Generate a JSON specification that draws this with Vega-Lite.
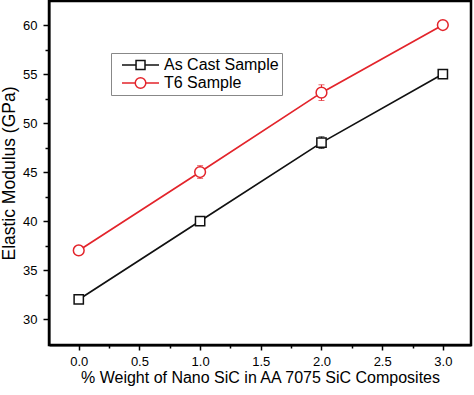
{
  "$schema": "https://vega.github.io/schema/vega-lite/v6.json",
  "width": 422,
  "height": 344,
  "autosize": {"type": "none"},
  "padding": {"left": 49, "top": 1, "right": 3, "bottom": 50},
  "background": "white",
  "config": {
    "font": "Liberation Sans",
    "view": {"stroke": "#000", "strokeWidth": 2.5},
    "axis": {
      "grid": false,
      "domainColor": "#000",
      "domainWidth": 2,
      "tickColor": "#000",
      "tickWidth": 1.5,
      "labelColor": "#000",
      "titleColor": "#000",
      "labelFont": "Liberation Sans",
      "titleFont": "Liberation Sans",
      "labelFontSize": 13,
      "titleFontWeight": "normal"
    }
  },
  "data": {
    "values": [
      {"x": 0, "y": 32, "lo": 31.7, "hi": 32.3, "sample": "As Cast Sample"},
      {"x": 1, "y": 40, "lo": 39.6, "hi": 40.4, "sample": "As Cast Sample"},
      {"x": 2, "y": 48, "lo": 47.4, "hi": 48.6, "sample": "As Cast Sample"},
      {"x": 3, "y": 55, "lo": 54.7, "hi": 55.3, "sample": "As Cast Sample"},
      {"x": 0, "y": 37, "lo": 36.7, "hi": 37.3, "sample": "T6 Sample"},
      {"x": 1, "y": 45, "lo": 44.35, "hi": 45.65, "sample": "T6 Sample"},
      {"x": 2, "y": 53.1, "lo": 52.3, "hi": 53.9, "sample": "T6 Sample"},
      {"x": 3, "y": 60, "lo": 59.7, "hi": 60.3, "sample": "T6 Sample"}
    ]
  },
  "encoding": {
    "x": {
      "field": "x",
      "type": "quantitative",
      "scale": {"domain": [-0.245, 3.232], "nice": false, "zero": false},
      "axis": {
        "title": "% Weight of Nano SiC in AA 7075 SiC Composites",
        "titleFontSize": 16,
        "titlePadding": 1,
        "values": [0, 0.25, 0.5, 0.75, 1, 1.25, 1.5, 1.75, 2, 2.25, 2.5, 2.75, 3],
        "labelExpr": "abs(datum.value*2 - round(datum.value*2)) < 0.001 ? format(datum.value, '.1f') : ''",
        "tickSize": {"condition": {"test": "abs(datum.value*2 - round(datum.value*2)) < 0.001", "value": 5}, "value": 3},
        "labelPadding": 5,
        "labelFlush": false
      }
    },
    "y": {
      "field": "y",
      "type": "quantitative",
      "scale": {"domain": [27.35, 62.45], "nice": false, "zero": false},
      "axis": {
        "title": "Elastic Modulus (GPa)",
        "titleFontSize": 17.5,
        "titlePadding": 4,
        "values": [30, 32.5, 35, 37.5, 40, 42.5, 45, 47.5, 50, 52.5, 55, 57.5, 60],
        "labelExpr": "datum.value % 5 == 0 ? format(datum.value, 'd') : ''",
        "tickSize": {"condition": {"test": "datum.value % 5 == 0", "value": 6}, "value": 4},
        "labelPadding": 6,
        "labelFlush": false
      }
    }
  },
  "layer": [
    {
      "mark": {"type": "line", "strokeWidth": 1.7},
      "encoding": {
        "stroke": {
          "field": "sample",
          "type": "nominal",
          "scale": {"domain": ["As Cast Sample", "T6 Sample"], "range": ["#111111", "#e3242b"]},
          "legend": {
            "title": null,
            "orient": "none",
            "legendX": 62,
            "legendY": 52,
            "padding": 3,
            "rowPadding": 1,
            "strokeColor": "#888888",
            "fillColor": "white",
            "labelFont": "Liberation Sans",
            "labelFontSize": 16,
            "labelColor": "#000",
            "labelOffset": 32,
            "symbolSize": 256,
            "symbolStrokeWidth": 1.5,
            "encoding": {
              "symbols": {
                "shape": {"condition": {"test": "datum.value == 'As Cast Sample'", "value": "M-0.125,0H1.63M2.75,0H4.5M1.63,-0.56H2.75V0.56H1.63Z"}, "value": "M-0.125,0H1.53M2.85,0H4.5M1.53,0A0.66,0.66 0 1,1 2.85,0A0.66,0.66 0 1,1 1.53,0Z"},
                "stroke": {"condition": {"test": "datum.value == 'As Cast Sample'", "value": "#111111"}, "value": "#e3242b"},
                "fill": {"value": "white"},
                "fillOpacity": {"value": 1},
                "opacity": {"value": 1},
                "strokeWidth": {"value": 1.5}
              }
            }
          }
        }
      }
    },
    {
      "transform": [{"filter": "datum.sample == 'As Cast Sample'"}],
      "layer": [
        {
          "mark": {"type": "errorbar", "ticks": {"size": 6}, "thickness": 1, "color": "#111111"},
          "encoding": {
            "y": {"field": "lo", "type": "quantitative"},
            "y2": {"field": "hi"}
          }
        },
        {
          "mark": {"type": "point", "shape": "square", "size": 86, "filled": false, "fill": "white", "fillOpacity": 1, "opacity": 1, "stroke": "#111111", "strokeWidth": 1.5}
        }
      ]
    },
    {
      "transform": [{"filter": "datum.sample == 'T6 Sample'"}],
      "layer": [
        {
          "mark": {"type": "errorbar", "ticks": {"size": 6}, "thickness": 1, "color": "#e3242b"},
          "encoding": {
            "y": {"field": "lo", "type": "quantitative"},
            "y2": {"field": "hi"}
          }
        },
        {
          "mark": {"type": "point", "shape": "circle", "size": 115, "filled": false, "fill": "white", "fillOpacity": 1, "opacity": 1, "stroke": "#e3242b", "strokeWidth": 1.5}
        }
      ]
    }
  ]
}
